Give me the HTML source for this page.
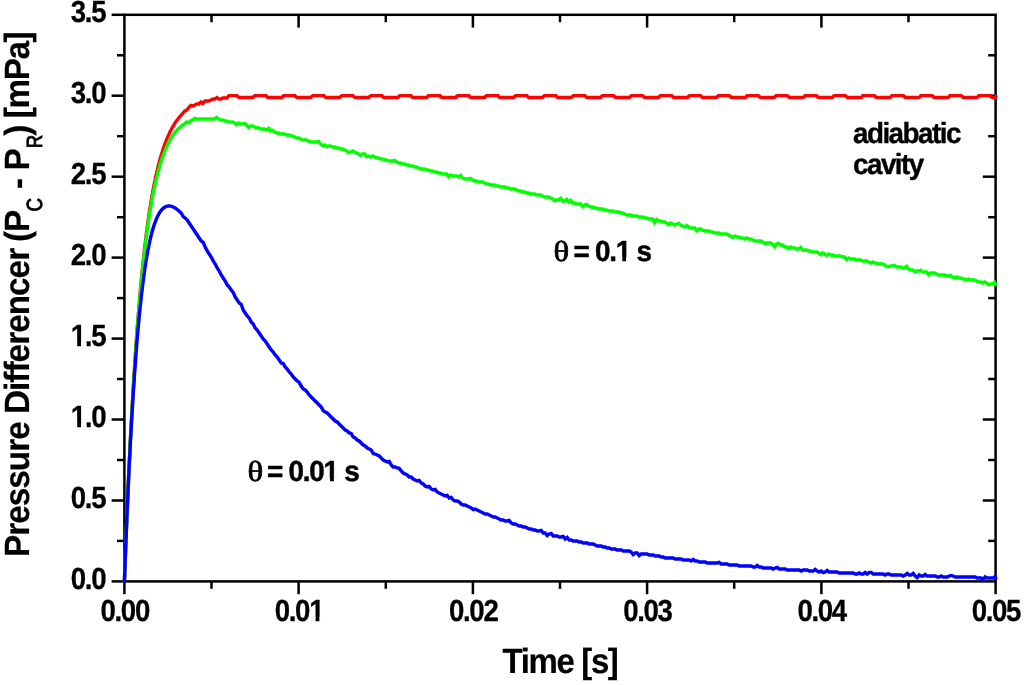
<!DOCTYPE html>
<html lang="en"><head><meta charset="utf-8"><title>Pressure difference vs time</title>
<style>
html,body{margin:0;padding:0;background:#fff;}
body{width:1024px;height:685px;overflow:hidden;}
svg{display:block;}
text{font-family:"Liberation Sans",sans-serif;font-weight:bold;fill:#000;text-rendering:geometricPrecision;}
.th{font-family:"Liberation Serif",serif;font-weight:normal;stroke:#000;stroke-width:0.7px;}
.sub{font-weight:normal;letter-spacing:0;stroke:#000;stroke-width:0.9px;}
</style></head><body>
<svg width="1024" height="685" viewBox="0 0 1024 685">
<rect width="1024" height="685" fill="#fff"/>
<g stroke="#000" stroke-width="2.5" fill="none" stroke-linecap="butt">
<rect x="124.4" y="14.8" width="871.2" height="566.6"/>
<path d="M124.4,581.4 h-12.8"/>
<path d="M124.4,540.9 h-7.4"/>
<path d="M995.6,540.9 h-7.4"/>
<path d="M124.4,500.5 h-12.8"/>
<path d="M995.6,500.5 h-12.8"/>
<path d="M124.4,460.0 h-7.4"/>
<path d="M995.6,460.0 h-7.4"/>
<path d="M124.4,419.5 h-12.8"/>
<path d="M995.6,419.5 h-12.8"/>
<path d="M124.4,379.0 h-7.4"/>
<path d="M995.6,379.0 h-7.4"/>
<path d="M124.4,338.6 h-12.8"/>
<path d="M995.6,338.6 h-12.8"/>
<path d="M124.4,298.1 h-7.4"/>
<path d="M995.6,298.1 h-7.4"/>
<path d="M124.4,257.6 h-12.8"/>
<path d="M995.6,257.6 h-12.8"/>
<path d="M124.4,217.2 h-7.4"/>
<path d="M995.6,217.2 h-7.4"/>
<path d="M124.4,176.7 h-12.8"/>
<path d="M995.6,176.7 h-12.8"/>
<path d="M124.4,136.2 h-7.4"/>
<path d="M995.6,136.2 h-7.4"/>
<path d="M124.4,95.7 h-12.8"/>
<path d="M995.6,95.7 h-12.8"/>
<path d="M124.4,55.3 h-7.4"/>
<path d="M995.6,55.3 h-7.4"/>
<path d="M124.4,14.8 h-12.8"/>
<path d="M124.4,581.4 v12.8"/>
<path d="M211.5,581.4 v7.4"/>
<path d="M211.5,14.8 v7.4"/>
<path d="M298.6,581.4 v12.8"/>
<path d="M298.6,14.8 v12.8"/>
<path d="M385.8,581.4 v7.4"/>
<path d="M385.8,14.8 v7.4"/>
<path d="M472.9,581.4 v12.8"/>
<path d="M472.9,14.8 v12.8"/>
<path d="M560.0,581.4 v7.4"/>
<path d="M560.0,14.8 v7.4"/>
<path d="M647.1,581.4 v12.8"/>
<path d="M647.1,14.8 v12.8"/>
<path d="M734.2,581.4 v7.4"/>
<path d="M734.2,14.8 v7.4"/>
<path d="M821.4,581.4 v12.8"/>
<path d="M821.4,14.8 v12.8"/>
<path d="M908.5,581.4 v7.4"/>
<path d="M908.5,14.8 v7.4"/>
<path d="M995.6,581.4 v12.8"/>
</g>
<g fill="none" stroke-width="3.4" stroke-linejoin="miter" stroke-miterlimit="3" stroke-linecap="square">
<path d="M124.4,581.4 L124.9,568.2 L125.4,555.5 L125.8,543.0 L126.3,530.9 L126.8,519.1 L127.3,507.7 L127.8,496.5 L128.2,485.7 L128.7,475.1 L129.2,464.8 L129.7,454.8 L130.1,445.1 L130.6,435.7 L131.1,426.5 L131.6,417.5 L132.1,408.8 L132.5,400.3 L133.0,392.1 L133.5,384.1 L134.0,376.3 L134.5,368.7 L134.9,361.3 L135.4,354.1 L135.9,347.1 L136.4,340.3 L136.9,333.7 L137.3,327.3 L137.8,321.0 L138.3,315.0 L138.8,309.0 L139.3,303.3 L139.7,297.7 L140.2,292.2 L140.7,286.9 L141.2,281.7 L141.6,276.7 L142.1,271.8 L142.6,267.1 L143.1,262.4 L143.6,257.9 L144.0,253.6 L144.5,249.3 L145.0,245.2 L145.5,241.1 L146.0,237.2 L146.4,233.4 L146.9,229.7 L147.4,226.1 L147.9,222.6 L148.4,219.1 L148.8,215.8 L149.3,212.6 L149.8,209.4 L150.3,206.4 L150.8,203.4 L151.2,200.5 L151.7,197.7 L152.2,194.9 L152.7,192.3 L153.1,189.7 L153.6,187.1 L154.1,184.7 L154.6,182.3 L155.1,180.0 L155.5,177.7 L156.0,175.5 L156.5,173.4 L157.0,171.3 L157.5,169.3 L157.9,167.3 L158.4,165.4 L158.9,163.5 L159.4,161.7 L159.9,159.9 L160.3,158.2 L160.8,156.5 L161.3,154.9 L161.8,153.3 L162.3,151.8 L162.7,150.3 L163.2,148.8 L163.7,147.4 L164.2,146.0 L164.6,144.7 L165.1,143.4 L165.6,142.1 L166.1,140.9 L166.6,139.7 L167.0,138.5 L167.5,137.4 L168.0,136.3 L168.5,135.2 L169.0,134.1 L169.4,133.1 L169.9,132.1 L170.4,131.2 L170.9,130.2 L171.4,129.3 L171.8,128.4 L172.3,127.5 L172.8,126.7 L173.3,125.9 L173.8,125.1 L174.2,124.3 L174.7,123.6 L175.2,122.8 L175.7,122.1 L176.1,121.4 L176.6,120.8 L177.1,120.1 L177.6,119.5 L178.1,118.8 L178.5,118.2 L179.0,117.6 L179.5,117.1 L180.0,116.5 L180.5,116.0 L180.9,115.4 L181.4,114.9 L181.9,114.4 L182.9,113.0 L184.9,111.0 L186.9,110.0 L188.9,107.5 L190.9,105.5 L192.9,106.0 L194.9,105.0 L196.9,104.0 L198.9,104.0 L200.9,102.0 L202.9,103.5 L204.9,101.0 L206.9,101.0 L208.9,101.0 L210.9,100.0 L212.9,99.0 L214.9,99.0 L216.9,97.5 L218.9,99.0 L220.9,99.0 L222.9,98.0 L224.9,98.0 L226.9,98.0 L228.9,95.6 L229.9,95.6 L230.9,95.6 L231.9,95.6 L232.9,95.6 L233.9,95.6 L234.9,95.6 L235.9,95.6 L236.9,95.6 L237.9,96.7 L238.9,97.5 L239.9,97.5 L240.9,97.5 L241.9,97.5 L242.9,97.5 L243.9,97.5 L244.9,97.5 L245.9,97.5 L246.9,97.5 L247.9,97.5 L248.9,97.5 L249.9,97.5 L250.9,97.5 L251.9,97.5 L252.9,97.5 L253.9,96.3 L254.9,95.6 L255.9,95.6 L256.9,95.6 L257.9,95.6 L258.9,95.6 L259.9,95.6 L260.9,95.6 L261.9,95.6 L262.9,95.6 L263.9,95.6 L264.9,95.6 L265.9,95.6 L266.9,96.8 L267.9,97.5 L268.9,97.5 L269.9,97.5 L270.9,97.5 L271.9,97.5 L272.9,97.5 L273.9,97.5 L274.9,97.5 L275.9,97.5 L276.9,97.5 L277.9,97.5 L278.9,97.5 L279.9,97.5 L280.9,97.5 L281.9,97.5 L282.9,96.3 L283.9,95.6 L284.9,95.6 L285.9,95.6 L286.9,95.6 L287.9,95.6 L288.9,95.6 L289.9,95.6 L290.9,95.6 L291.9,95.6 L292.9,95.6 L293.9,95.6 L294.9,95.6 L295.9,96.8 L296.9,97.5 L297.9,97.5 L298.9,97.5 L299.9,97.5 L300.9,97.5 L301.9,97.5 L302.9,97.5 L303.9,97.5 L304.9,97.5 L305.9,97.5 L306.9,97.5 L307.9,97.5 L308.9,97.5 L309.9,97.5 L310.9,97.5 L311.9,96.2 L312.9,95.6 L313.9,95.6 L314.9,95.6 L315.9,95.6 L316.9,95.6 L317.9,95.6 L318.9,95.6 L319.9,95.6 L320.9,95.6 L321.9,95.6 L322.9,95.6 L323.9,95.6 L324.9,96.8 L325.9,97.5 L326.9,97.5 L327.9,97.5 L328.9,97.5 L329.9,97.5 L330.9,97.5 L331.9,97.5 L332.9,97.5 L333.9,97.5 L334.9,97.5 L335.9,97.5 L336.9,97.5 L337.9,97.5 L338.9,97.5 L339.9,97.5 L340.9,96.2 L341.9,95.6 L342.9,95.6 L343.9,95.6 L344.9,95.6 L345.9,95.6 L346.9,95.6 L347.9,95.6 L348.9,95.6 L349.9,95.6 L350.9,95.6 L351.9,95.6 L352.9,95.6 L353.9,96.8 L354.9,97.5 L355.9,97.5 L356.9,97.5 L357.9,97.5 L358.9,97.5 L359.9,97.5 L360.9,97.5 L361.9,97.5 L362.9,97.5 L363.9,97.5 L364.9,97.5 L365.9,97.5 L366.9,97.5 L367.9,97.5 L368.9,97.5 L369.9,96.2 L370.9,95.6 L371.9,95.6 L372.9,95.6 L373.9,95.6 L374.9,95.6 L375.9,95.6 L376.9,95.6 L377.9,95.6 L378.9,95.6 L379.9,95.6 L380.9,95.6 L381.9,95.6 L382.9,96.9 L383.9,97.5 L384.9,97.5 L385.9,97.5 L386.9,97.5 L387.9,97.5 L388.9,97.5 L389.9,97.5 L390.9,97.5 L391.9,97.5 L392.9,97.5 L393.9,97.5 L394.9,97.5 L395.9,97.5 L396.9,97.5 L397.9,97.5 L398.9,96.2 L399.9,95.6 L400.9,95.6 L401.9,95.6 L402.9,95.6 L403.9,95.6 L404.9,95.6 L405.9,95.6 L406.9,95.6 L407.9,95.6 L408.9,95.6 L409.9,95.6 L410.9,95.6 L411.9,96.9 L412.9,97.5 L413.9,97.5 L414.9,97.5 L415.9,97.5 L416.9,97.5 L417.9,97.5 L418.9,97.5 L419.9,97.5 L420.9,97.5 L421.9,97.5 L422.9,97.5 L423.9,97.5 L424.9,97.5 L425.9,97.5 L426.9,97.4 L427.9,96.1 L428.9,95.6 L429.9,95.6 L430.9,95.6 L431.9,95.6 L432.9,95.6 L433.9,95.6 L434.9,95.6 L435.9,95.6 L436.9,95.6 L437.9,95.6 L438.9,95.6 L439.9,95.6 L440.9,96.9 L441.9,97.5 L442.9,97.5 L443.9,97.5 L444.9,97.5 L445.9,97.5 L446.9,97.5 L447.9,97.5 L448.9,97.5 L449.9,97.5 L450.9,97.5 L451.9,97.5 L452.9,97.5 L453.9,97.5 L454.9,97.5 L455.9,97.4 L456.9,96.1 L457.9,95.6 L458.9,95.6 L459.9,95.6 L460.9,95.6 L461.9,95.6 L462.9,95.6 L463.9,95.6 L464.9,95.6 L465.9,95.6 L466.9,95.6 L467.9,95.6 L468.9,95.6 L469.9,96.9 L470.9,97.5 L471.9,97.5 L472.9,97.5 L473.9,97.5 L474.9,97.5 L475.9,97.5 L476.9,97.5 L477.9,97.5 L478.9,97.5 L479.9,97.5 L480.9,97.5 L481.9,97.5 L482.9,97.5 L483.9,97.5 L484.9,97.4 L485.9,96.1 L486.9,95.6 L487.9,95.6 L488.9,95.6 L489.9,95.6 L490.9,95.6 L491.9,95.6 L492.9,95.6 L493.9,95.6 L494.9,95.6 L495.9,95.6 L496.9,95.6 L497.9,95.7 L498.9,97.0 L499.9,97.5 L500.9,97.5 L501.9,97.5 L502.9,97.5 L503.9,97.5 L504.9,97.5 L505.9,97.5 L506.9,97.5 L507.9,97.5 L508.9,97.5 L509.9,97.5 L510.9,97.5 L511.9,97.5 L512.9,97.5 L513.9,97.4 L514.9,96.1 L515.9,95.6 L516.9,95.6 L517.9,95.6 L518.9,95.6 L519.9,95.6 L520.9,95.6 L521.9,95.6 L522.9,95.6 L523.9,95.6 L524.9,95.6 L525.9,95.6 L526.9,95.7 L527.9,97.0 L528.9,97.5 L529.9,97.5 L530.9,97.5 L531.9,97.5 L532.9,97.5 L533.9,97.5 L534.9,97.5 L535.9,97.5 L536.9,97.5 L537.9,97.5 L538.9,97.5 L539.9,97.5 L540.9,97.5 L541.9,97.5 L542.9,97.3 L543.9,96.0 L544.9,95.6 L545.9,95.6 L546.9,95.6 L547.9,95.6 L548.9,95.6 L549.9,95.6 L550.9,95.6 L551.9,95.6 L552.9,95.6 L553.9,95.6 L554.9,95.6 L555.9,95.7 L556.9,97.0 L557.9,97.5 L558.9,97.5 L559.9,97.5 L560.9,97.5 L561.9,97.5 L562.9,97.5 L563.9,97.5 L564.9,97.5 L565.9,97.5 L566.9,97.5 L567.9,97.5 L568.9,97.5 L569.9,97.5 L570.9,97.5 L571.9,97.3 L572.9,96.0 L573.9,95.6 L574.9,95.6 L575.9,95.6 L576.9,95.6 L577.9,95.6 L578.9,95.6 L579.9,95.6 L580.9,95.6 L581.9,95.6 L582.9,95.6 L583.9,95.6 L584.9,95.7 L585.9,97.0 L586.9,97.5 L587.9,97.5 L588.9,97.5 L589.9,97.5 L590.9,97.5 L591.9,97.5 L592.9,97.5 L593.9,97.5 L594.9,97.5 L595.9,97.5 L596.9,97.5 L597.9,97.5 L598.9,97.5 L599.9,97.5 L600.9,97.3 L601.9,96.0 L602.9,95.6 L603.9,95.6 L604.9,95.6 L605.9,95.6 L606.9,95.6 L607.9,95.6 L608.9,95.6 L609.9,95.6 L610.9,95.6 L611.9,95.6 L612.9,95.6 L613.9,95.8 L614.9,97.1 L615.9,97.5 L616.9,97.5 L617.9,97.5 L618.9,97.5 L619.9,97.5 L620.9,97.5 L621.9,97.5 L622.9,97.5 L623.9,97.5 L624.9,97.5 L625.9,97.5 L626.9,97.5 L627.9,97.5 L628.9,97.5 L629.9,97.3 L630.9,95.9 L631.9,95.6 L632.9,95.6 L633.9,95.6 L634.9,95.6 L635.9,95.6 L636.9,95.6 L637.9,95.6 L638.9,95.6 L639.9,95.6 L640.9,95.6 L641.9,95.6 L642.9,95.8 L643.9,97.1 L644.9,97.5 L645.9,97.5 L646.9,97.5 L647.9,97.5 L648.9,97.5 L649.9,97.5 L650.9,97.5 L651.9,97.5 L652.9,97.5 L653.9,97.5 L654.9,97.5 L655.9,97.5 L656.9,97.5 L657.9,97.5 L658.9,97.2 L659.9,95.9 L660.9,95.6 L661.9,95.6 L662.9,95.6 L663.9,95.6 L664.9,95.6 L665.9,95.6 L666.9,95.6 L667.9,95.6 L668.9,95.6 L669.9,95.6 L670.9,95.6 L671.9,95.8 L672.9,97.1 L673.9,97.5 L674.9,97.5 L675.9,97.5 L676.9,97.5 L677.9,97.5 L678.9,97.5 L679.9,97.5 L680.9,97.5 L681.9,97.5 L682.9,97.5 L683.9,97.5 L684.9,97.5 L685.9,97.5 L686.9,97.5 L687.9,97.2 L688.9,95.9 L689.9,95.6 L690.9,95.6 L691.9,95.6 L692.9,95.6 L693.9,95.6 L694.9,95.6 L695.9,95.6 L696.9,95.6 L697.9,95.6 L698.9,95.6 L699.9,95.6 L700.9,95.8 L701.9,97.2 L702.9,97.5 L703.9,97.5 L704.9,97.5 L705.9,97.5 L706.9,97.5 L707.9,97.5 L708.9,97.5 L709.9,97.5 L710.9,97.5 L711.9,97.5 L712.9,97.5 L713.9,97.5 L714.9,97.5 L715.9,97.5 L716.9,97.2 L717.9,95.9 L718.9,95.6 L719.9,95.6 L720.9,95.6 L721.9,95.6 L722.9,95.6 L723.9,95.6 L724.9,95.6 L725.9,95.6 L726.9,95.6 L727.9,95.6 L728.9,95.6 L729.9,95.9 L730.9,97.2 L731.9,97.5 L732.9,97.5 L733.9,97.5 L734.9,97.5 L735.9,97.5 L736.9,97.5 L737.9,97.5 L738.9,97.5 L739.9,97.5 L740.9,97.5 L741.9,97.5 L742.9,97.5 L743.9,97.5 L744.9,97.5 L745.9,97.2 L746.9,95.8 L747.9,95.6 L748.9,95.6 L749.9,95.6 L750.9,95.6 L751.9,95.6 L752.9,95.6 L753.9,95.6 L754.9,95.6 L755.9,95.6 L756.9,95.6 L757.9,95.6 L758.9,95.9 L759.9,97.2 L760.9,97.5 L761.9,97.5 L762.9,97.5 L763.9,97.5 L764.9,97.5 L765.9,97.5 L766.9,97.5 L767.9,97.5 L768.9,97.5 L769.9,97.5 L770.9,97.5 L771.9,97.5 L772.9,97.5 L773.9,97.5 L774.9,97.1 L775.9,95.8 L776.9,95.6 L777.9,95.6 L778.9,95.6 L779.9,95.6 L780.9,95.6 L781.9,95.6 L782.9,95.6 L783.9,95.6 L784.9,95.6 L785.9,95.6 L786.9,95.6 L787.9,95.9 L788.9,97.2 L789.9,97.5 L790.9,97.5 L791.9,97.5 L792.9,97.5 L793.9,97.5 L794.9,97.5 L795.9,97.5 L796.9,97.5 L797.9,97.5 L798.9,97.5 L799.9,97.5 L800.9,97.5 L801.9,97.5 L802.9,97.5 L803.9,97.1 L804.9,95.8 L805.9,95.6 L806.9,95.6 L807.9,95.6 L808.9,95.6 L809.9,95.6 L810.9,95.6 L811.9,95.6 L812.9,95.6 L813.9,95.6 L814.9,95.6 L815.9,95.6 L816.9,95.9 L817.9,97.3 L818.9,97.5 L819.9,97.5 L820.9,97.5 L821.9,97.5 L822.9,97.5 L823.9,97.5 L824.9,97.5 L825.9,97.5 L826.9,97.5 L827.9,97.5 L828.9,97.5 L829.9,97.5 L830.9,97.5 L831.9,97.5 L832.9,97.1 L833.9,95.8 L834.9,95.6 L835.9,95.6 L836.9,95.6 L837.9,95.6 L838.9,95.6 L839.9,95.6 L840.9,95.6 L841.9,95.6 L842.9,95.6 L843.9,95.6 L844.9,95.6 L845.9,96.0 L846.9,97.3 L847.9,97.5 L848.9,97.5 L849.9,97.5 L850.9,97.5 L851.9,97.5 L852.9,97.5 L853.9,97.5 L854.9,97.5 L855.9,97.5 L856.9,97.5 L857.9,97.5 L858.9,97.5 L859.9,97.5 L860.9,97.5 L861.9,97.0 L862.9,95.7 L863.9,95.6 L864.9,95.6 L865.9,95.6 L866.9,95.6 L867.9,95.6 L868.9,95.6 L869.9,95.6 L870.9,95.6 L871.9,95.6 L872.9,95.6 L873.9,95.6 L874.9,96.0 L875.9,97.3 L876.9,97.5 L877.9,97.5 L878.9,97.5 L879.9,97.5 L880.9,97.5 L881.9,97.5 L882.9,97.5 L883.9,97.5 L884.9,97.5 L885.9,97.5 L886.9,97.5 L887.9,97.5 L888.9,97.5 L889.9,97.5 L890.9,97.0 L891.9,95.7 L892.9,95.6 L893.9,95.6 L894.9,95.6 L895.9,95.6 L896.9,95.6 L897.9,95.6 L898.9,95.6 L899.9,95.6 L900.9,95.6 L901.9,95.6 L902.9,95.6 L903.9,96.0 L904.9,97.3 L905.9,97.5 L906.9,97.5 L907.9,97.5 L908.9,97.5 L909.9,97.5 L910.9,97.5 L911.9,97.5 L912.9,97.5 L913.9,97.5 L914.9,97.5 L915.9,97.5 L916.9,97.5 L917.9,97.5 L918.9,97.5 L919.9,97.0 L920.9,95.7 L921.9,95.6 L922.9,95.6 L923.9,95.6 L924.9,95.6 L925.9,95.6 L926.9,95.6 L927.9,95.6 L928.9,95.6 L929.9,95.6 L930.9,95.6 L931.9,95.6 L932.9,96.1 L933.9,97.4 L934.9,97.5 L935.9,97.5 L936.9,97.5 L937.9,97.5 L938.9,97.5 L939.9,97.5 L940.9,97.5 L941.9,97.5 L942.9,97.5 L943.9,97.5 L944.9,97.5 L945.9,97.5 L946.9,97.5 L947.9,97.5 L948.9,97.0 L949.9,95.7 L950.9,95.6 L951.9,95.6 L952.9,95.6 L953.9,95.6 L954.9,95.6 L955.9,95.6 L956.9,95.6 L957.9,95.6 L958.9,95.6 L959.9,95.6 L960.9,95.6 L961.9,96.1 L962.9,97.4 L963.9,97.5 L964.9,97.5 L965.9,97.5 L966.9,97.5 L967.9,97.5 L968.9,97.5 L969.9,97.5 L970.9,97.5 L971.9,97.5 L972.9,97.5 L973.9,97.5 L974.9,97.5 L975.9,97.5 L976.9,97.5 L977.9,96.9 L978.9,95.6 L979.9,95.6 L980.9,95.6 L981.9,95.6 L982.9,95.6 L983.9,95.6 L984.9,95.6 L985.9,95.6 L986.9,95.6 L987.9,95.6 L988.9,95.6 L989.9,95.6 L990.9,96.1 L991.9,97.4 L992.9,97.5 L993.9,97.5 L994.9,97.5 L995.6,96.4" stroke="#ff0000"/>
<path d="M124.4,581.4 L124.9,567.9 L125.4,554.7 L125.9,541.9 L126.4,529.5 L126.9,517.4 L127.4,505.7 L127.9,494.3 L128.3,483.2 L128.8,472.4 L129.3,462.0 L129.8,451.8 L130.3,441.9 L130.8,432.3 L131.3,423.0 L131.8,413.9 L132.3,405.1 L132.8,396.5 L133.3,388.2 L133.8,380.2 L134.3,372.3 L134.8,364.7 L135.3,357.3 L135.8,350.1 L136.2,343.1 L136.7,336.3 L137.2,329.7 L137.7,323.3 L138.2,317.1 L138.7,311.0 L139.2,305.1 L139.7,299.4 L140.2,293.9 L140.7,288.5 L141.2,283.2 L141.7,278.2 L142.2,273.2 L142.7,268.4 L143.2,263.8 L143.7,259.2 L144.1,254.9 L144.6,250.6 L145.1,246.4 L145.6,242.4 L146.1,238.5 L146.6,234.7 L147.1,231.0 L147.6,227.4 L148.1,224.0 L148.6,220.6 L149.1,217.3 L149.6,214.1 L150.1,211.0 L150.6,208.0 L151.1,205.1 L151.6,202.3 L152.0,199.6 L152.5,196.9 L153.0,194.3 L153.5,191.8 L154.0,189.4 L154.5,187.0 L155.0,184.7 L155.5,182.5 L156.0,180.3 L156.5,178.2 L157.0,176.2 L157.5,174.2 L158.0,172.3 L158.5,170.5 L159.0,168.7 L159.5,166.9 L159.9,165.2 L160.4,163.6 L160.9,162.0 L161.4,160.4 L161.9,158.9 L162.4,157.5 L162.9,156.1 L163.4,154.7 L163.9,153.4 L164.4,152.1 L164.9,150.9 L165.4,149.7 L165.9,148.5 L166.4,147.4 L166.9,146.3 L167.4,145.2 L167.8,144.2 L168.3,143.2 L168.8,142.2 L169.3,141.3 L169.8,140.4 L170.3,139.5 L170.8,138.7 L171.3,137.9 L171.8,137.1 L172.3,136.3 L172.8,135.6 L173.3,134.8 L173.8,134.1 L174.3,133.5 L174.8,132.8 L175.2,132.2 L175.7,131.6 L176.2,131.0 L176.7,130.4 L177.2,129.9 L177.7,129.4 L178.2,128.9 L178.7,128.4 L179.2,127.9 L179.7,127.5 L180.2,127.0 L180.7,126.6 L181.2,126.2 L181.7,125.8 L182.2,125.4 L182.7,125.1 L183.1,124.7 L183.6,124.4 L184.6,124.0 L186.6,122.0 L188.6,122.6 L190.6,121.0 L192.6,120.0 L194.6,118.4 L196.6,119.0 L198.6,119.0 L200.6,119.0 L202.6,119.0 L204.6,119.0 L206.6,119.0 L208.6,119.0 L210.6,119.0 L212.6,119.0 L214.6,119.0 L216.6,117.4 L218.6,119.0 L220.6,120.0 L222.6,120.0 L224.6,121.0 L226.6,121.0 L228.6,122.0 L230.6,122.0 L232.6,122.0 L234.6,123.0 L236.6,124.6 L238.6,123.0 L240.6,124.0 L242.6,124.0 L244.6,123.4 L246.6,125.0 L248.6,127.6 L250.6,126.0 L252.6,126.0 L254.6,127.0 L256.6,128.0 L258.6,128.0 L260.6,129.0 L262.6,129.0 L264.6,129.0 L266.6,130.0 L268.6,128.4 L270.6,131.0 L272.6,130.4 L274.6,132.0 L276.6,133.0 L278.6,133.0 L280.6,134.0 L282.6,134.0 L284.6,134.0 L286.6,135.0 L288.6,135.0 L290.6,135.4 L292.6,136.0 L294.6,137.0 L296.6,138.0 L298.6,138.0 L300.6,139.0 L302.6,140.0 L304.6,140.0 L306.6,140.0 L308.6,141.0 L310.6,142.0 L312.6,142.0 L314.6,142.0 L316.6,142.0 L318.6,141.4 L320.6,144.0 L322.6,145.6 L324.6,145.0 L326.6,146.6 L328.6,146.0 L330.6,146.0 L332.6,147.0 L334.6,147.0 L336.6,148.0 L338.6,148.0 L340.6,149.0 L342.6,149.0 L344.6,150.0 L346.6,151.0 L348.6,152.6 L350.6,152.0 L352.6,151.0 L354.6,152.0 L356.6,153.0 L358.6,154.0 L360.6,155.6 L362.6,154.0 L364.6,154.0 L366.6,156.6 L368.6,156.0 L370.6,157.0 L372.6,156.0 L374.6,157.0 L376.6,158.0 L378.6,158.0 L380.6,159.0 L382.6,159.0 L384.6,160.0 L386.6,160.0 L388.6,161.0 L390.6,161.0 L392.6,161.0 L394.6,160.4 L396.6,162.0 L398.6,163.0 L400.6,163.0 L402.6,164.0 L404.6,164.0 L406.6,165.0 L408.6,165.0 L410.6,166.0 L412.6,166.0 L414.6,167.0 L416.6,167.0 L418.6,168.0 L420.6,169.0 L422.6,169.0 L424.6,169.0 L426.6,170.0 L428.6,170.0 L430.6,171.0 L432.6,171.0 L434.6,172.0 L436.6,172.0 L438.6,173.0 L440.6,173.0 L442.6,174.0 L444.6,174.0 L446.6,174.0 L448.6,176.6 L450.6,175.0 L452.6,176.0 L454.6,176.0 L456.6,176.0 L458.6,177.0 L460.6,175.4 L462.6,178.0 L464.6,179.0 L466.6,179.0 L468.6,179.0 L470.6,178.4 L472.6,180.0 L474.6,181.0 L476.6,181.0 L478.6,182.0 L480.6,182.0 L482.6,182.0 L484.6,183.0 L486.6,184.0 L488.6,184.0 L490.6,185.0 L492.6,185.0 L494.6,185.0 L496.6,186.0 L498.6,186.0 L500.6,187.0 L502.6,187.0 L504.6,187.0 L506.6,188.0 L508.6,188.0 L510.6,189.0 L512.6,189.0 L514.6,189.0 L516.6,190.0 L518.6,191.0 L520.6,191.0 L522.6,192.0 L524.6,192.0 L526.6,193.0 L528.6,193.0 L530.6,194.0 L532.6,194.0 L534.6,194.0 L536.6,195.0 L538.6,195.0 L540.6,195.0 L542.6,196.0 L544.6,197.0 L546.6,197.0 L548.6,197.0 L550.6,198.0 L552.6,199.0 L554.6,200.6 L556.6,200.0 L558.6,200.0 L560.6,198.4 L562.6,201.0 L564.6,201.0 L566.6,199.4 L568.6,202.0 L570.6,200.4 L572.6,203.0 L574.6,203.0 L576.6,204.0 L578.6,204.0 L580.6,204.0 L582.6,206.6 L584.6,205.0 L586.6,204.4 L588.6,206.0 L590.6,207.0 L592.6,207.0 L594.6,208.0 L596.6,208.0 L598.6,209.0 L600.6,209.0 L602.6,209.0 L604.6,210.0 L606.6,210.0 L608.6,211.0 L610.6,211.0 L612.6,211.0 L614.6,212.0 L616.6,212.0 L618.6,212.0 L620.6,213.0 L622.6,213.0 L624.6,214.0 L626.6,215.0 L628.6,215.0 L630.6,215.0 L632.6,216.0 L634.6,216.0 L636.6,216.0 L638.6,217.0 L640.6,217.0 L642.6,217.0 L644.6,218.0 L646.6,218.0 L648.6,219.0 L650.6,219.0 L652.6,219.0 L654.6,222.6 L656.6,219.4 L658.6,221.0 L660.6,221.0 L662.6,222.0 L664.6,222.0 L666.6,223.0 L668.6,224.6 L670.6,223.0 L672.6,224.0 L674.6,225.0 L676.6,224.0 L678.6,223.4 L680.6,225.0 L682.6,226.0 L684.6,227.0 L686.6,225.4 L688.6,227.0 L690.6,228.0 L692.6,228.0 L694.6,228.0 L696.6,230.6 L698.6,229.0 L700.6,229.0 L702.6,230.0 L704.6,231.0 L706.6,231.0 L708.6,231.0 L710.6,232.0 L712.6,232.0 L714.6,233.0 L716.6,233.0 L718.6,233.0 L720.6,234.0 L722.6,234.0 L724.6,234.0 L726.6,234.0 L728.6,235.0 L730.6,236.0 L732.6,237.6 L734.6,236.0 L736.6,237.0 L738.6,237.0 L740.6,238.0 L742.6,238.0 L744.6,239.0 L746.6,238.0 L748.6,239.0 L750.6,239.0 L752.6,240.0 L754.6,241.0 L756.6,241.0 L758.6,241.0 L760.6,241.0 L762.6,242.0 L764.6,243.6 L766.6,243.0 L768.6,243.0 L770.6,243.0 L772.6,244.0 L774.6,246.6 L776.6,244.0 L778.6,243.4 L780.6,245.0 L782.6,245.0 L784.6,247.0 L786.6,247.0 L788.6,248.6 L790.6,247.0 L792.6,248.0 L794.6,248.0 L796.6,249.0 L798.6,249.0 L800.6,247.4 L802.6,250.0 L804.6,250.0 L806.6,250.0 L808.6,251.0 L810.6,251.0 L812.6,252.0 L814.6,252.0 L816.6,252.0 L818.6,253.0 L820.6,254.6 L822.6,253.0 L824.6,254.0 L826.6,255.6 L828.6,254.0 L830.6,255.0 L832.6,255.0 L834.6,256.0 L836.6,256.0 L838.6,256.0 L840.6,256.0 L842.6,257.0 L844.6,257.0 L846.6,259.6 L848.6,258.0 L850.6,259.0 L852.6,259.0 L854.6,259.0 L856.6,260.0 L858.6,260.0 L860.6,260.0 L862.6,261.0 L864.6,261.0 L866.6,261.0 L868.6,262.0 L870.6,263.0 L872.6,262.0 L874.6,263.0 L876.6,263.0 L878.6,264.0 L880.6,264.0 L882.6,264.0 L884.6,265.0 L886.6,266.6 L888.6,266.6 L890.6,266.0 L892.6,266.0 L894.6,265.4 L896.6,267.0 L898.6,267.0 L900.6,267.0 L902.6,268.0 L904.6,268.0 L906.6,266.4 L908.6,269.0 L910.6,270.0 L912.6,270.0 L914.6,271.6 L916.6,271.0 L918.6,271.0 L920.6,270.4 L922.6,272.0 L924.6,272.0 L926.6,272.0 L928.6,274.6 L930.6,273.0 L932.6,273.0 L934.6,273.0 L936.6,274.0 L938.6,275.0 L940.6,275.0 L942.6,275.0 L944.6,275.0 L946.6,276.0 L948.6,276.0 L950.6,275.4 L952.6,277.0 L954.6,278.0 L956.6,277.0 L958.6,278.0 L960.6,278.0 L962.6,279.0 L964.6,279.0 L966.6,280.0 L968.6,279.0 L970.6,280.0 L972.6,280.0 L974.6,280.0 L976.6,281.0 L978.6,282.0 L980.6,282.0 L982.6,283.0 L984.6,282.0 L986.6,283.0 L988.6,284.6 L990.6,284.0 L992.6,284.0 L994.6,282.4 L995.6,284.4" stroke="#00ff00"/>
<path d="M124.4,581.4 L124.9,568.7 L125.3,556.3 L125.8,544.3 L126.3,532.6 L126.7,521.3 L127.2,510.3 L127.7,499.6 L128.1,489.3 L128.6,479.2 L129.0,469.5 L129.5,460.0 L130.0,450.8 L130.4,441.9 L130.9,433.3 L131.4,424.9 L131.8,416.8 L132.3,408.9 L132.8,401.3 L133.2,393.9 L133.7,386.7 L134.2,379.7 L134.6,373.0 L135.1,366.5 L135.6,360.1 L136.0,354.0 L136.5,348.1 L136.9,342.3 L137.4,336.8 L137.9,331.4 L138.3,326.2 L138.8,321.1 L139.3,316.2 L139.7,311.5 L140.2,306.9 L140.7,302.5 L141.1,298.3 L141.6,294.1 L142.1,290.2 L142.5,286.3 L143.0,282.6 L143.5,279.0 L143.9,275.5 L144.4,272.2 L144.8,269.0 L145.3,265.9 L145.8,262.9 L146.2,260.0 L146.7,257.2 L147.2,254.5 L147.6,251.9 L148.1,249.5 L148.6,247.1 L149.0,244.8 L149.5,242.6 L150.0,240.5 L150.4,238.4 L150.9,236.5 L151.3,234.6 L151.8,232.8 L152.3,231.1 L152.7,229.5 L153.2,227.9 L153.7,226.4 L154.1,225.0 L154.6,223.6 L155.1,222.3 L155.5,221.1 L156.0,219.9 L156.5,218.8 L156.9,217.7 L157.4,216.7 L157.9,215.8 L158.3,214.9 L158.8,214.0 L159.2,213.2 L159.7,212.5 L160.2,211.8 L160.6,211.2 L161.1,210.5 L161.6,210.0 L162.0,209.5 L162.5,209.0 L163.0,208.5 L163.4,208.1 L163.9,207.8 L164.4,207.5 L164.8,207.2 L165.3,206.9 L165.8,206.7 L166.2,206.5 L166.7,206.3 L167.1,206.2 L167.6,206.1 L168.1,206.1 L168.5,206.0 L169.0,206.0 L169.5,206.0 L169.9,206.1 L170.4,206.1 L170.9,206.2 L171.3,206.3 L171.8,206.5 L172.3,206.6 L172.7,206.8 L173.2,207.0 L173.7,207.2 L174.1,207.5 L174.6,207.7 L175.0,208.0 L175.5,208.3 L176.0,208.6 L176.4,209.0 L176.9,209.3 L177.4,209.7 L177.8,210.0 L178.3,210.4 L178.8,210.9 L179.2,211.3 L179.7,211.7 L180.2,212.2 L181.2,213.0 L183.2,216.6 L185.2,218.0 L187.2,220.0 L189.2,223.0 L191.2,226.0 L193.2,229.0 L195.2,232.0 L197.2,235.0 L199.2,238.0 L201.2,241.0 L203.2,242.4 L205.2,247.0 L207.2,251.0 L209.2,254.0 L211.2,257.0 L213.2,261.0 L215.2,264.0 L217.2,268.0 L219.2,271.0 L221.2,275.0 L223.2,278.0 L225.2,281.0 L227.2,285.0 L229.2,287.0 L231.2,290.0 L233.2,292.4 L235.2,297.0 L237.2,300.0 L239.2,303.0 L241.2,304.4 L243.2,310.0 L245.2,313.0 L247.2,316.0 L249.2,318.0 L251.2,322.0 L253.2,324.0 L255.2,328.0 L257.2,330.0 L259.2,333.0 L261.2,336.0 L263.2,339.0 L265.2,341.0 L267.2,344.0 L269.2,347.0 L271.2,350.0 L273.2,352.0 L275.2,355.0 L277.2,357.0 L279.2,360.0 L281.2,363.0 L283.2,363.4 L285.2,367.0 L287.2,369.0 L289.2,372.0 L291.2,374.0 L293.2,377.0 L295.2,379.0 L297.2,381.0 L299.2,382.4 L301.2,386.0 L303.2,389.0 L305.2,390.0 L307.2,392.0 L309.2,395.0 L311.2,397.0 L313.2,399.0 L315.2,401.0 L317.2,403.0 L319.2,405.0 L321.2,407.0 L323.2,410.6 L325.2,412.0 L327.2,413.0 L329.2,415.0 L331.2,417.0 L333.2,419.0 L335.2,421.0 L337.2,422.0 L339.2,424.0 L341.2,426.0 L343.2,428.0 L345.2,430.0 L347.2,431.0 L349.2,433.0 L351.2,433.4 L353.2,437.0 L355.2,438.0 L357.2,440.0 L359.2,441.0 L361.2,443.0 L363.2,445.0 L365.2,446.0 L367.2,448.0 L369.2,449.0 L371.2,450.0 L373.2,453.6 L375.2,454.0 L377.2,455.0 L379.2,456.0 L381.2,458.0 L383.2,460.0 L385.2,461.0 L387.2,462.0 L389.2,461.4 L391.2,465.0 L393.2,467.0 L395.2,467.0 L397.2,468.0 L399.2,468.4 L401.2,471.0 L403.2,473.0 L405.2,474.0 L407.2,475.0 L409.2,477.0 L411.2,477.0 L413.2,479.0 L415.2,480.0 L417.2,481.0 L419.2,480.4 L421.2,483.0 L423.2,484.0 L425.2,486.0 L427.2,487.0 L429.2,486.4 L431.2,489.0 L433.2,490.0 L435.2,489.4 L437.2,492.0 L439.2,493.0 L441.2,494.0 L443.2,495.0 L445.2,496.0 L447.2,495.4 L449.2,498.0 L451.2,497.4 L453.2,500.0 L455.2,501.0 L457.2,501.0 L459.2,502.0 L461.2,504.0 L463.2,505.0 L465.2,505.0 L467.2,506.0 L469.2,507.0 L471.2,508.0 L473.2,509.6 L475.2,509.0 L477.2,510.0 L479.2,511.0 L481.2,512.0 L483.2,513.0 L485.2,514.0 L487.2,514.0 L489.2,515.0 L491.2,516.0 L493.2,517.0 L495.2,517.0 L497.2,518.0 L499.2,519.0 L501.2,520.0 L503.2,520.0 L505.2,521.0 L507.2,521.0 L509.2,520.4 L511.2,523.0 L513.2,524.0 L515.2,524.0 L517.2,525.0 L519.2,526.0 L521.2,526.0 L523.2,527.0 L525.2,527.0 L527.2,528.0 L529.2,529.0 L531.2,529.0 L533.2,530.0 L535.2,530.0 L537.2,531.0 L539.2,531.0 L541.2,530.4 L543.2,533.0 L545.2,533.0 L547.2,535.6 L549.2,534.0 L551.2,533.4 L553.2,536.0 L555.2,536.0 L557.2,536.0 L559.2,537.0 L561.2,537.0 L563.2,536.4 L565.2,539.0 L567.2,537.4 L569.2,540.0 L571.2,540.0 L573.2,541.0 L575.2,541.0 L577.2,541.0 L579.2,542.0 L581.2,542.0 L583.2,543.0 L585.2,543.0 L587.2,543.0 L589.2,544.0 L591.2,544.0 L593.2,544.0 L595.2,545.0 L597.2,546.0 L599.2,546.0 L601.2,546.0 L603.2,547.0 L605.2,547.0 L607.2,548.0 L609.2,548.0 L611.2,549.0 L613.2,549.0 L615.2,549.0 L617.2,550.0 L619.2,550.0 L621.2,550.0 L623.2,551.0 L625.2,551.0 L627.2,551.0 L629.2,551.0 L631.2,552.0 L633.2,554.6 L635.2,553.0 L637.2,553.0 L639.2,555.6 L641.2,554.0 L643.2,554.0 L645.2,554.0 L647.2,554.0 L649.2,555.0 L651.2,555.0 L653.2,555.0 L655.2,556.0 L657.2,556.0 L659.2,556.0 L661.2,557.0 L663.2,557.0 L665.2,558.0 L667.2,558.0 L669.2,558.0 L671.2,558.0 L673.2,558.0 L675.2,559.0 L677.2,559.0 L679.2,559.0 L681.2,559.0 L683.2,560.0 L685.2,560.0 L687.2,560.0 L689.2,560.0 L691.2,561.0 L693.2,559.4 L695.2,561.0 L697.2,561.0 L699.2,562.0 L701.2,562.0 L703.2,562.0 L705.2,562.0 L707.2,563.0 L709.2,563.0 L711.2,563.0 L713.2,563.0 L715.2,563.0 L717.2,563.0 L719.2,562.4 L721.2,564.0 L723.2,564.0 L725.2,564.0 L727.2,564.0 L729.2,565.0 L731.2,565.0 L733.2,565.0 L735.2,565.0 L737.2,565.0 L739.2,566.0 L741.2,566.0 L743.2,566.0 L745.2,566.0 L747.2,566.0 L749.2,566.0 L751.2,566.0 L753.2,567.0 L755.2,567.0 L757.2,565.4 L759.2,567.0 L761.2,567.0 L763.2,568.0 L765.2,568.0 L767.2,568.0 L769.2,568.0 L771.2,568.0 L773.2,569.0 L775.2,568.0 L777.2,567.4 L779.2,569.0 L781.2,569.0 L783.2,569.0 L785.2,569.0 L787.2,570.0 L789.2,570.0 L791.2,570.0 L793.2,570.0 L795.2,570.0 L797.2,570.0 L799.2,570.0 L801.2,571.0 L803.2,570.0 L805.2,570.0 L807.2,570.0 L809.2,571.0 L811.2,571.0 L813.2,571.0 L815.2,569.4 L817.2,571.0 L819.2,572.0 L821.2,571.0 L823.2,572.6 L825.2,572.0 L827.2,570.4 L829.2,572.0 L831.2,572.0 L833.2,572.0 L835.2,572.0 L837.2,572.0 L839.2,573.0 L841.2,573.0 L843.2,573.0 L845.2,573.0 L847.2,573.0 L849.2,573.0 L851.2,573.0 L853.2,573.0 L855.2,574.0 L857.2,574.0 L859.2,573.0 L861.2,574.0 L863.2,574.0 L865.2,572.4 L867.2,574.0 L869.2,572.4 L871.2,572.4 L873.2,574.0 L875.2,574.0 L877.2,574.0 L879.2,574.0 L881.2,574.0 L883.2,574.0 L885.2,575.0 L887.2,574.0 L889.2,574.0 L891.2,575.0 L893.2,575.0 L895.2,575.0 L897.2,575.0 L899.2,575.0 L901.2,575.0 L903.2,576.0 L905.2,575.0 L907.2,573.4 L909.2,575.0 L911.2,575.0 L913.2,573.4 L915.2,576.0 L917.2,577.6 L919.2,575.0 L921.2,576.0 L923.2,576.0 L925.2,574.4 L927.2,576.0 L929.2,576.0 L931.2,576.0 L933.2,576.0 L935.2,576.0 L937.2,577.0 L939.2,577.0 L941.2,576.0 L943.2,577.0 L945.2,577.0 L947.2,577.0 L949.2,576.0 L951.2,575.4 L953.2,576.0 L955.2,577.0 L957.2,577.0 L959.2,577.0 L961.2,577.0 L963.2,577.0 L965.2,577.0 L967.2,577.0 L969.2,577.0 L971.2,577.0 L973.2,577.0 L975.2,577.0 L977.2,578.0 L979.2,578.0 L981.2,578.0 L983.2,579.6 L985.2,577.0 L987.2,578.0 L989.2,578.0 L991.2,578.0 L993.2,578.0 L995.2,576.4 L995.6,577.8" stroke="#0000ff"/>
</g>
<text transform="translate(105.20,589.00) scale(0.862,0.955)" text-anchor="end" font-size="32" letter-spacing="-1.52" stroke="#000" stroke-width="0.3">0.0</text>
<text transform="translate(105.20,508.06) scale(0.862,0.955)" text-anchor="end" font-size="32" letter-spacing="-1.52" stroke="#000" stroke-width="0.3">0.5</text>
<g transform="translate(105.20,427.11) scale(0.862,0.955)"><text id="t1" text-anchor="end" font-size="32" letter-spacing="-1.52" stroke="#000" stroke-width="0.3">1.0</text><rect x="-39.12" y="-4.17" width="6.65" height="5.07" fill="#fff"/><rect x="-28.08" y="-4.17" width="6.25" height="5.07" fill="#fff"/></g>
<g transform="translate(105.20,346.17) scale(0.862,0.955)"><text id="t2" text-anchor="end" font-size="32" letter-spacing="-1.52" stroke="#000" stroke-width="0.3">1.5</text><rect x="-39.12" y="-4.17" width="6.65" height="5.07" fill="#fff"/><rect x="-28.08" y="-4.17" width="6.25" height="5.07" fill="#fff"/></g>
<text transform="translate(105.20,265.23) scale(0.862,0.955)" text-anchor="end" font-size="32" letter-spacing="-1.52" stroke="#000" stroke-width="0.3">2.0</text>
<text transform="translate(105.20,184.29) scale(0.862,0.955)" text-anchor="end" font-size="32" letter-spacing="-1.52" stroke="#000" stroke-width="0.3">2.5</text>
<text transform="translate(105.20,103.34) scale(0.862,0.955)" text-anchor="end" font-size="32" letter-spacing="-1.52" stroke="#000" stroke-width="0.3">3.0</text>
<text transform="translate(105.20,22.40) scale(0.862,0.955)" text-anchor="end" font-size="32" letter-spacing="-1.52" stroke="#000" stroke-width="0.3">3.5</text>
<text transform="translate(124.70,621.00) scale(0.862,0.955)" text-anchor="middle" font-size="32" letter-spacing="-1.52" stroke="#000" stroke-width="0.3">0.00</text>
<g transform="translate(298.94,621.00) scale(0.862,0.955)"><text id="t3" text-anchor="middle" font-size="32" letter-spacing="-1.52" stroke="#000" stroke-width="0.3">0.01</text><rect x="12.64" y="-4.17" width="6.65" height="5.07" fill="#fff"/><rect x="23.68" y="-4.17" width="6.25" height="5.07" fill="#fff"/></g>
<text transform="translate(473.18,621.00) scale(0.862,0.955)" text-anchor="middle" font-size="32" letter-spacing="-1.52" stroke="#000" stroke-width="0.3">0.02</text>
<text transform="translate(647.42,621.00) scale(0.862,0.955)" text-anchor="middle" font-size="32" letter-spacing="-1.52" stroke="#000" stroke-width="0.3">0.03</text>
<text transform="translate(821.66,621.00) scale(0.862,0.955)" text-anchor="middle" font-size="32" letter-spacing="-1.52" stroke="#000" stroke-width="0.3">0.04</text>
<text transform="translate(995.90,621.00) scale(0.862,0.955)" text-anchor="middle" font-size="32" letter-spacing="-1.52" stroke="#000" stroke-width="0.3">0.05</text>
<text transform="translate(560.00,672.60) scale(0.943,1.000)" text-anchor="middle" font-size="35" letter-spacing="-1.45" stroke="#000" stroke-width="0.2">Time [s]</text>
<text transform="translate(29.30,557.00) rotate(-90) scale(0.950,1.000)" text-anchor="start" font-size="35" letter-spacing="-1" stroke="#000" stroke-width="0.2">Pressure Differencer</text>
<text transform="translate(29.30,242.00) rotate(-90) scale(0.950,1.000)" text-anchor="start" font-size="35" letter-spacing="-1" stroke="#000" stroke-width="0.2">(P</text>
<text transform="translate(41.70,211.50) rotate(-90) scale(0.850,1.000)" text-anchor="start" font-size="22" letter-spacing="0" class="sub">C</text>
<text transform="translate(29.30,189.00) rotate(-90) scale(0.950,1.000)" text-anchor="start" font-size="35" letter-spacing="-1" stroke="#000" stroke-width="0.2">- P</text>
<text transform="translate(41.70,148.20) rotate(-90) scale(0.850,1.000)" text-anchor="start" font-size="22" letter-spacing="0" class="sub">R</text>
<text transform="translate(29.30,135.80) rotate(-90) scale(0.950,1.000)" text-anchor="start" font-size="35" letter-spacing="-1.45" stroke="#000" stroke-width="0.2">) [mPa]</text>
<text transform="translate(853.00,142.50) scale(0.960,1.000)" text-anchor="start" font-size="29" letter-spacing="-1.6" stroke="#000" stroke-width="0.35">adiabatic</text>
<text transform="translate(853.00,174.20) scale(0.960,1.000)" text-anchor="start" font-size="29" letter-spacing="-1.6" stroke="#000" stroke-width="0.35">cavity</text>
<text transform="translate(553.60,261.00) scale(1.130,1.000)" text-anchor="start" font-size="29" letter-spacing="0" class="th">θ</text>
<g transform="translate(567.10,261.00) scale(0.960,1.000)"><text id="t4" text-anchor="start" font-size="29" letter-spacing="-1.3" xml:space="preserve" stroke="#000" stroke-width="0.5"> = 0.1 s</text><rect x="51.36" y="-3.86" width="6.14" height="4.76" fill="#fff"/><rect x="61.48" y="-3.86" width="5.77" height="4.76" fill="#fff"/></g>
<text transform="translate(247.40,481.30) scale(1.130,1.000)" text-anchor="start" font-size="29" letter-spacing="0" class="th">θ</text>
<g transform="translate(260.60,481.30) scale(0.960,1.000)"><text id="t5" text-anchor="start" font-size="29" letter-spacing="-1.3" xml:space="preserve" stroke="#000" stroke-width="0.5"> = 0.01 s</text><rect x="66.19" y="-3.86" width="6.14" height="4.76" fill="#fff"/><rect x="76.31" y="-3.86" width="5.77" height="4.76" fill="#fff"/></g>
</svg></body></html>
